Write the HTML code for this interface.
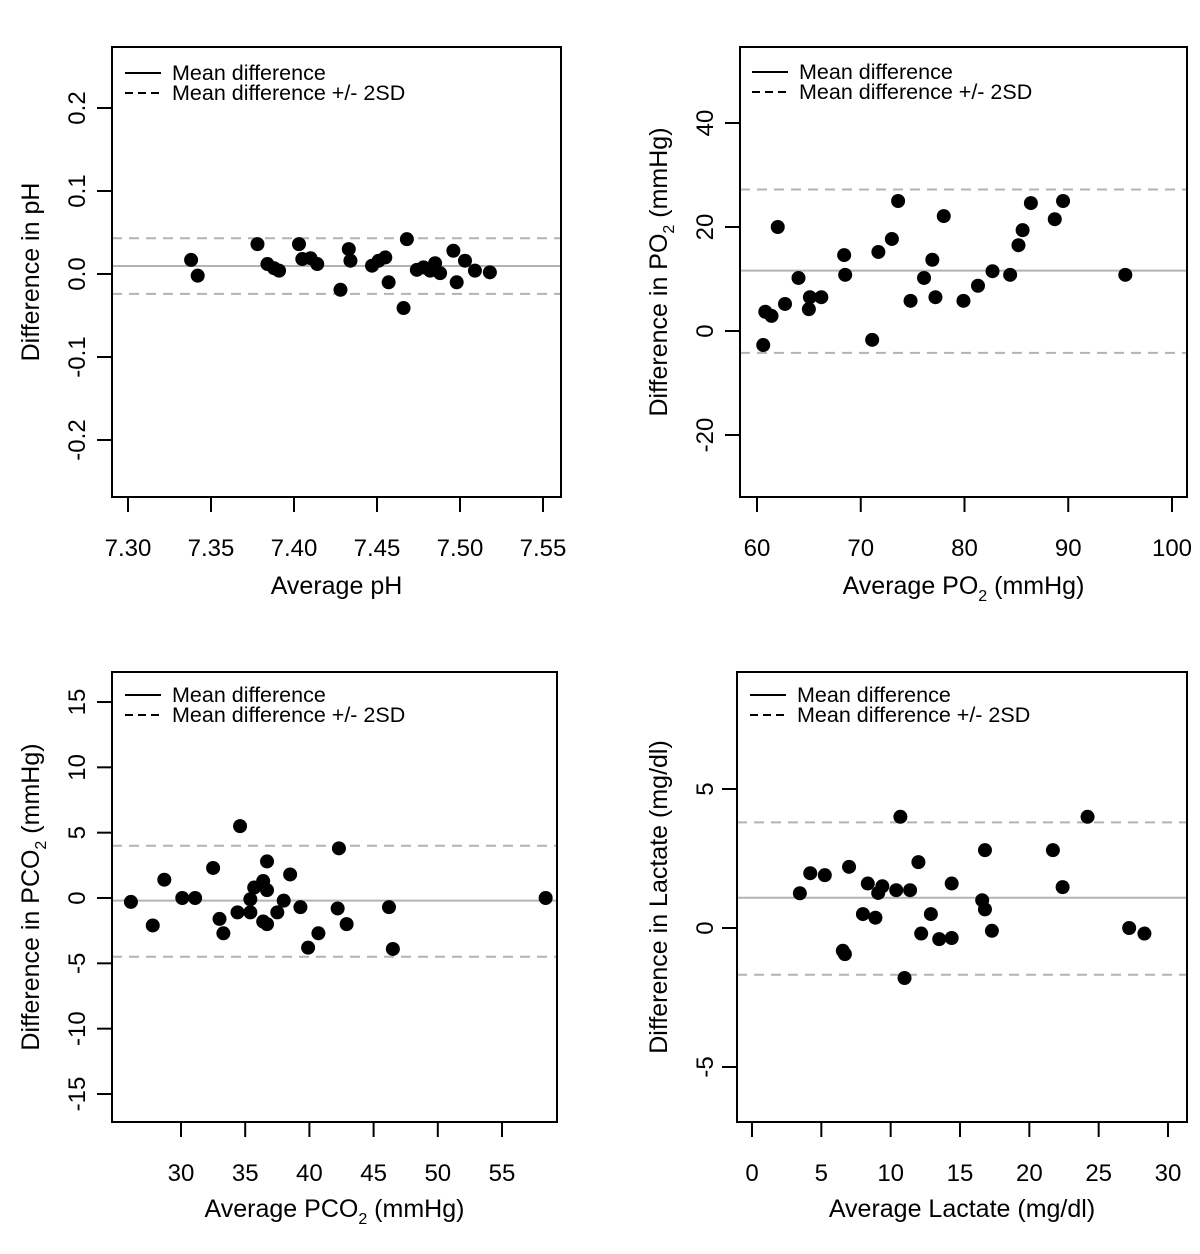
<!DOCTYPE html>
<html><head><meta charset="utf-8"><style>
html,body{margin:0;padding:0;background:#fff;}
svg{display:block;font-family:"Liberation Sans",Arial,sans-serif;}
</style></head><body>
<svg id="chart" width="1200" height="1254" viewBox="0 0 1200 1254" xmlns="http://www.w3.org/2000/svg"></svg>
<script>
// ---- data ----
const phAvg=[7.338,7.342,7.378,7.384,7.388,7.391,7.403,7.405,7.410,7.414,7.428,7.433,7.434,7.447,7.451,7.455,7.457,7.466,7.468,7.474,7.478,7.482,7.485,7.488,7.496,7.498,7.503,7.509,7.518];
const phDiff=[0.017,-0.002,0.036,0.012,0.007,0.004,0.036,0.018,0.019,0.012,-0.019,0.030,0.016,0.010,0.016,0.020,-0.010,-0.041,0.042,0.005,0.008,0.004,0.013,0.001,0.028,-0.010,0.016,0.004,0.002];
const phStats=[0.0096,0.043,-0.024];
const poAvg=[60.6,60.8,61.4,62.0,62.7,64.0,65.1,65.0,66.2,68.4,68.5,71.1,71.7,73.0,73.6,74.8,76.1,76.9,77.2,78.0,79.9,81.3,82.7,84.4,85.2,85.6,86.4,88.7,89.5,95.5];
const poDiff=[-2.7,3.7,2.9,20.0,5.2,10.2,6.5,4.2,6.5,14.6,10.8,-1.7,15.2,17.7,25.0,5.8,10.2,13.7,6.5,22.1,5.8,8.7,11.5,10.8,16.5,19.4,24.6,21.5,25.0,10.8];
const poStats=[11.6,27.2,-4.2];
const pcAvg=[26.1,27.8,28.7,30.1,31.1,32.5,33.0,33.3,34.4,34.6,35.4,35.4,35.7,36.4,36.7,36.4,36.7,36.7,37.5,38.0,38.5,39.3,39.9,40.7,42.2,42.3,42.9,46.2,46.5,58.4];
const pcDiff=[-0.3,-2.1,1.4,0.0,0.0,2.3,-1.6,-2.7,-1.1,5.5,-0.1,-1.1,0.8,1.3,0.6,-1.8,-2.0,2.8,-1.1,-0.2,1.8,-0.7,-3.8,-2.7,-0.8,3.8,-2.0,-0.7,-3.9,0.0];
const pcStats=[-0.2,4.0,-4.5];
const laAvg=[3.45,4.2,5.25,6.55,6.7,7.0,8.0,8.35,8.9,9.1,9.4,10.4,10.7,11.0,11.4,12.0,12.2,12.9,13.5,14.4,14.4,16.6,16.8,16.8,17.3,21.7,22.4,24.2,27.2,28.3];
const laDiff=[1.25,1.97,1.9,-0.82,-0.94,2.2,0.5,1.6,0.37,1.26,1.5,1.36,4.0,-1.8,1.36,2.37,-0.2,0.5,-0.4,1.6,-0.36,1.0,2.8,0.67,-0.1,2.8,1.47,4.0,0.0,-0.2];
const laStats=[1.09,3.8,-1.68];
const phXTicks=["7.30","7.35","7.40","7.45","7.50","7.55"];
const phYTicks=["-0.2","-0.1","0.0","0.1","0.2"];
const poXTicks=["60","70","80","90","100"];
const poYTicks=["-20","0","20","40"];
const pcXTicks=["30","35","40","45","50","55"];
const pcYTicks=["-15","-10","-5","0","5","10","15"];
const laXTicks=["0","5","10","15","20","25","30"];
const laYTicks=["-5","0","5"];

const NS="http://www.w3.org/2000/svg";
const svg=document.getElementById('chart');
function mk(tag,attrs,parent){const e=document.createElementNS(NS,tag);for(const k in attrs)e.setAttribute(k,attrs[k]);(parent||svg).appendChild(e);return e;}
function lin(v0,p0,v1,p1){return v=>p0+(v-v0)*(p1-p0)/(v1-v0);}

const panels=[
 {id:'ph',box:[112,47,561,497],sx:lin(7.30,128,7.55,543),sy:lin(0,274,0.2,108),xt:phXTicks,yt:phYTicks,xs:phAvg,ys:phDiff,st:phStats,
  xlab:[['Average pH']],ylab:[['Difference in pH']],legX:125,legY:73,xtY:547,xlY:585,ytX:76,ylX:30},
 {id:'po2',box:[740,47,1187,497],sx:lin(60,757,100,1172),sy:lin(0,331,40,123),xt:poXTicks,yt:poYTicks,xs:poAvg,ys:poDiff,st:poStats,
  xlab:[['Average PO'],['2','sub'],[' (mmHg)']],ylab:[['Difference in PO'],['2','sub'],[' (mmHg)']],legX:752,legY:72,xtY:547,xlY:585,ytX:704,ylX:658},
 {id:'pco2',box:[112,672,557,1122],sx:lin(30,181,55,502),sy:lin(0,898,15,702),xt:pcXTicks,yt:pcYTicks,xs:pcAvg,ys:pcDiff,st:pcStats,
  xlab:[['Average PCO'],['2','sub'],[' (mmHg)']],ylab:[['Difference in PCO'],['2','sub'],[' (mmHg)']],legX:125,legY:695,xtY:1172,xlY:1208,ytX:76,ylX:30},
 {id:'lactate',box:[737,672,1187,1122],sx:lin(0,752,30,1168),sy:lin(0,928,5,789),xt:laXTicks,yt:laYTicks,xs:laAvg,ys:laDiff,st:laStats,
  xlab:[['Average Lactate (mg/dl)']],ylab:[['Difference in Lactate (mg/dl)']],legX:750,legY:695,xtY:1172,xlY:1208,ytX:704,ylX:658}
];

function richText(parts,attrs,g){
  const t=mk('text',attrs,g);
  parts.forEach(p=>{const s=mk('tspan',{},t);s.textContent=p[0];
    if(p[1]==='sub'){s.setAttribute('font-size','16');s.setAttribute('dy','7');}
    else if(t.childNodes.length>1){s.setAttribute('dy','-7');}
  });
  return t;
}

panels.forEach(p=>{
  const g=mk('g',{});
  
  
  const [l,t,r,b]=p.box;
  const lines=[[p.st[0],null,'mean-difference-line'],[p.st[1],'10,7','upper-limit-line'],[p.st[2],'10,7','lower-limit-line']];
  lines.forEach(L=>{const y=p.sy(L[0]);const e=mk('line',{x1:l,x2:r,y1:y,y2:y,stroke:'#b3b3b3','stroke-width':2},g);
    if(L[1])e.setAttribute('stroke-dasharray',L[1]);
    
    });
  p.xs.forEach((xv,i)=>{const c=mk('circle',{cx:p.sx(xv),cy:p.sy(p.ys[i]),r:7,fill:'#000'},g);
    
    });
  const bx=mk('rect',{x:l,y:t,width:r-l,height:b-t,fill:'none',stroke:'#000','stroke-width':2},g);
  
  
  p.xt.forEach(lbl=>{const x=p.sx(parseFloat(lbl));
    mk('line',{x1:x,x2:x,y1:b,y2:b+15,stroke:'#000','stroke-width':2},g);
    const tx=mk('text',{x:x,y:p.xtY+9,'text-anchor':'middle','font-size':24},g);tx.textContent=lbl;
    
    });
  p.yt.forEach(lbl=>{const y=p.sy(parseFloat(lbl));
    mk('line',{x1:l,x2:l-15,y1:y,y2:y,stroke:'#000','stroke-width':2},g);
    const tx=mk('text',{x:p.ytX+9,y:y,'text-anchor':'middle','font-size':24,transform:`rotate(-90 ${p.ytX+9} ${y})`},g);tx.textContent=lbl;
    
    });
  const cx=(l+r)/2, cy=(t+b)/2;
  const xl=richText(p.xlab,{x:cx,y:p.xlY+9,'text-anchor':'middle','font-size':25},g);
  
  
  const yl=richText(p.ylab,{x:0,y:0,'text-anchor':'middle','font-size':25},g);
  yl.setAttribute('transform',`translate(${p.ylX+9} ${cy}) rotate(-90)`);
  
  
  const lg=mk('g',{},g);
  
  
  [['Mean difference',null],['Mean difference +/- 2SD','8,5']].forEach((e,i)=>{
    const y=p.legY+i*20;
    const ln=mk('line',{x1:p.legX,x2:p.legX+36,y1:y,y2:y,stroke:'#000','stroke-width':2},lg);
    if(e[1])ln.setAttribute('stroke-dasharray',e[1]);
    const tx=mk('text',{x:p.legX+47,y:y+7,'font-size':21.5},lg);tx.textContent=e[0];
    
    
  });
});
</script>
</body></html>
